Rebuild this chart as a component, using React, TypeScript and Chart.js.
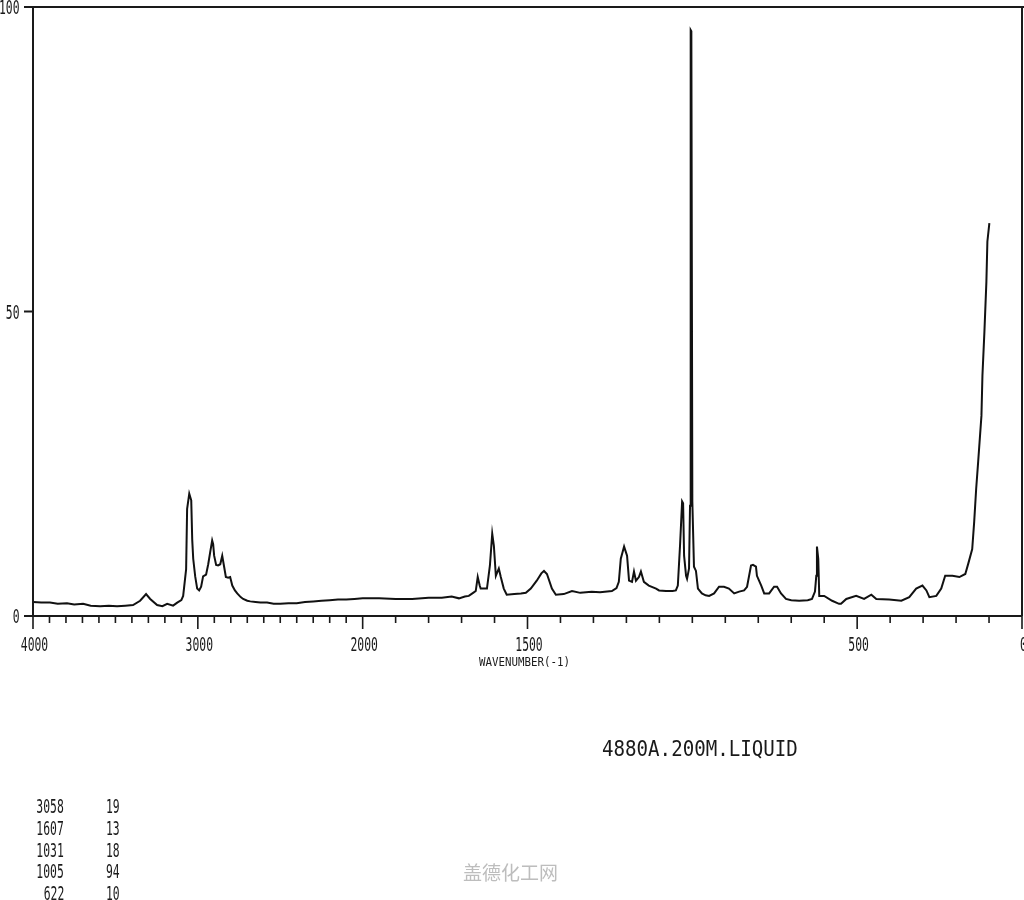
import React, { useEffect, useRef } from "react";
import { Chart, registerables } from "chart.js";

Chart.register(...registerables);

// Raman spectrum (wavenumber, intensity)
const wavenumbers = [
  4000, 3950, 3897, 3850, 3794, 3750, 3696, 3650, 3593, 3540, 3490, 3440, 3393, 3350, 3314, 3289,
  3247, 3215, 3186, 3150, 3125, 3100, 3089, 3071, 3065, 3052, 3040, 3034, 3028, 3016, 3004, 2992,
  2980, 2968, 2950, 2937, 2925, 2913, 2907, 2901, 2889, 2877, 2864, 2852, 2840, 2830, 2816, 2804,
  2791, 2775, 2761, 2740, 2725, 2700, 2682, 2650, 2620, 2580, 2540, 2500, 2450, 2400, 2350, 2300,
  2250, 2200, 2150, 2100, 2050, 2000, 1950, 1900, 1850, 1800, 1760, 1730, 1708, 1690, 1678, 1665,
  1657, 1651, 1645, 1642, 1630, 1623, 1614, 1607, 1602, 1596, 1587, 1581, 1572, 1563, 1540, 1520,
  1505, 1490, 1472, 1458, 1450, 1441, 1426, 1414, 1390, 1365, 1340, 1305, 1280, 1244, 1230, 1223,
  1217, 1207, 1198, 1192, 1183, 1177, 1171, 1162, 1156, 1147, 1132, 1110, 1101, 1080, 1060, 1050,
  1044, 1037, 1031, 1028, 1025, 1019, 1016, 1010, 1007, 1005, 1003, 1000, 995, 989, 983, 971,
  960, 949, 934, 919, 904, 889, 873, 858, 843, 834, 822, 816, 807, 804, 791, 782,
  767, 752, 743, 731, 716, 700, 676, 650, 637, 628, 624, 622, 618, 615, 600, 576,
  555, 549, 533, 503, 479, 457, 442, 403, 366, 342, 321, 302, 290, 281, 260, 245,
  233, 211, 190, 172, 163, 151, 145, 139, 133, 123, 120, 114, 108, 105, 99,
];
const intensities = [
  2.3, 2.2, 2.2, 2.0, 2.1, 1.9, 2.0, 1.7, 1.6, 1.7, 1.6, 1.7, 1.8, 2.5, 3.6, 2.8,
  1.8, 1.6, 2.0, 1.7, 2.2, 2.6, 3.3, 7.7, 17.6, 20.1, 19.0, 12.5, 9.4, 6.5, 4.5, 4.2,
  4.8, 6.5, 6.8, 8.5, 10.5, 12.4, 11.8, 9.9, 8.4, 8.3, 8.5, 9.9, 8.0, 6.4, 6.3, 6.4,
  5.0, 4.2, 3.7, 3.1, 2.8, 2.5, 2.4, 2.3, 2.2, 2.2, 2.0, 2.0, 2.1, 2.1, 2.3, 2.4,
  2.5, 2.6, 2.7, 2.7, 2.8, 2.9, 2.9, 2.8, 2.8, 3.0, 3.0, 3.2, 2.9, 3.2, 3.3, 3.8,
  4.1, 6.4, 5.0, 4.5, 4.5, 4.5, 8.3, 13.5, 11.5, 6.6, 7.8, 6.4, 4.5, 3.5, 3.6, 3.7,
  3.8, 4.5, 5.8, 7.0, 7.4, 6.9, 4.5, 3.5, 3.6, 4.1, 3.8, 4.0, 3.9, 4.1, 4.6, 5.6,
  9.4, 11.4, 9.9, 5.8, 5.6, 7.3, 5.8, 6.4, 7.3, 5.6, 5.0, 4.5, 4.2, 4.1, 4.1, 4.2,
  5.0, 11.9, 18.8, 18.5, 9.9, 6.6, 6.1, 7.8, 18.1, 96.2, 96.0, 18.8, 8.1, 7.4, 4.5, 3.7,
  3.4, 3.3, 3.7, 4.8, 4.8, 4.5, 3.7, 4.0, 4.2, 4.8, 8.3, 8.4, 8.1, 6.6, 5.0, 3.7,
  3.7, 4.8, 4.8, 3.7, 2.8, 2.6, 2.5, 2.6, 2.8, 4.0, 6.6, 11.4, 9.4, 3.3, 3.3, 2.5,
  2.0, 2.0, 2.8, 3.3, 2.8, 3.5, 2.8, 2.7, 2.5, 3.1, 4.5, 5.0, 4.2, 3.1, 3.3, 4.5,
  6.6, 6.6, 6.4, 6.9, 8.6, 11.0, 15.5, 20.9, 25.3, 32.9, 39.5, 46.7, 54.9, 61.5, 64.5,
];

// Axis ticks
const xMinorStep = 100;
const xLabelledTicks = [4000, 3000, 2000, 1500, 500, 0];
const yTicks = [0, 50, 100];
const axisTitle = "WAVENUMBER(-1)";

// Annotations
const sampleLabel = "4880A.200M.LIQUID";
const peakPositions = ["3058", "1607", "1031", "1005", "622"];
const peakHeights = ["19", "13", "18", "94", "10"];
const watermark = "盖德化工网";

// 4000-2000 is drawn at half the scale of 2000-0
const toAxis = (w: number) => (w >= 2000 ? (4000 - w) / 2 : 1000 + (2000 - w));

const INK = "#1a1a1a";
const MONO = '"DejaVu Sans Mono", "Liberation Mono", monospace';

function drawText(ctx: CanvasRenderingContext2D, t: string, x: number, y: number, align: CanvasTextAlign, sx: number) {
  ctx.save();
  ctx.translate(x, y);
  ctx.scale(sx, 1);
  ctx.textAlign = align;
  ctx.textBaseline = "alphabetic";
  ctx.fillText(t, 0, 0);
  ctx.restore();
}

const plotterAxes = {
  id: "plotterAxes",
  afterDatasetsDraw(chart: any) {
    const { ctx, chartArea: a, scales } = chart;
    const xs = scales.x;
    const ys = scales.y;
    ctx.save();
    ctx.strokeStyle = INK;
    ctx.lineWidth = 2;
    ctx.beginPath();
    // frame
    ctx.moveTo(a.left, a.top);
    ctx.lineTo(1024, a.top);
    ctx.moveTo(a.right, a.top);
    ctx.lineTo(a.right, a.bottom);
    ctx.moveTo(a.left, a.top);
    ctx.lineTo(a.left, a.bottom);
    ctx.moveTo(a.left - 9, a.bottom);
    ctx.lineTo(a.right, a.bottom);
    // y ticks
    for (const v of yTicks) {
      const py = ys.getPixelForValue(v);
      ctx.moveTo(a.left - 9, py);
      ctx.lineTo(a.left, py);
    }
    ctx.stroke();
    // x ticks
    ctx.lineWidth = 1.6;
    ctx.beginPath();
    for (let w = 4000; w >= 0; w -= xMinorStep) {
      const px = xs.getPixelForValue(toAxis(w));
      const len = xLabelledTicks.includes(w) ? 13 : 7;
      ctx.moveTo(px, a.bottom);
      ctx.lineTo(px, a.bottom + len);
    }
    ctx.stroke();

    ctx.fillStyle = INK;
    ctx.font = `19px ${MONO}`;
    for (const w of xLabelledTicks) {
      const px = xs.getPixelForValue(toAxis(w));
      drawText(ctx, String(w), px + 1.5, a.bottom + 35, "center", 0.6);
    }
    for (const v of yTicks) {
      const py = ys.getPixelForValue(v);
      drawText(ctx, String(v), a.left - 13.5, py + 7, "right", 0.6);
    }
    ctx.font = `12px ${MONO}`;
    drawText(ctx, axisTitle, (a.left + a.right) / 2 - 3, a.bottom + 50, "center", 0.9);
    ctx.restore();
  },
};

export default function App() {
  const ref = useRef<HTMLCanvasElement>(null);

  useEffect(() => {
    if (!ref.current) return;
    const data = wavenumbers.map((w, i) => ({ x: toAxis(w), y: intensities[i] }));
    const chart = new Chart(ref.current, {
      type: "line",
      data: {
        datasets: [
          {
            label: "Raman",
            data,
            borderColor: "#111",
            borderWidth: 2,
            pointRadius: 0,
            tension: 0,
            fill: false,
          },
        ],
      },
      options: {
        animation: false,
        responsive: false,
        devicePixelRatio: 1,
        layout: { padding: { left: 33, right: 2, top: 7, bottom: 284 } },
        plugins: { legend: { display: false }, tooltip: { enabled: false } },
        scales: {
          x: { type: "linear", min: 0, max: 3000, display: false },
          y: { type: "linear", min: 0, max: 100, display: false },
        },
      },
      plugins: [plotterAxes],
    });
    return () => chart.destroy();
  }, []);

  const mono: React.CSSProperties = {
    position: "absolute",
    fontFamily: MONO,
    color: INK,
    lineHeight: 1,
    whiteSpace: "nowrap",
  };

  return (
    <div style={{ position: "absolute", left: 0, top: 0, width: 1024, height: 900, background: "#fff", overflow: "hidden" }}>
      <canvas ref={ref} width={1024} height={900} style={{ position: "absolute", left: 0, top: 0, width: 1024, height: 900 }} />
      <div style={{ ...mono, left: 602, top: 738, fontSize: 22, transform: "scaleX(0.87)", transformOrigin: "left top" }}>
        {sampleLabel}
      </div>
      {peakPositions.map((p, i) => (
        <div
          key={"p" + i}
          style={{ ...mono, right: 1024 - 64, top: 797 + i * 21.8, fontSize: 19, transform: "scaleX(0.6)", transformOrigin: "right top", textAlign: "right" }}
        >
          {p}
        </div>
      ))}
      {peakHeights.map((h, i) => (
        <div key={"h" + i} style={{ ...mono, left: 106, top: 797 + i * 21.8, fontSize: 19, transform: "scaleX(0.6)", transformOrigin: "left top" }}>
          {h}
        </div>
      ))}
      <div
        style={{
          position: "absolute",
          left: 463,
          top: 862,
          fontSize: 19,
          lineHeight: 1,
          color: "#bdbdbd",
          fontFamily: '"Noto Sans CJK SC", sans-serif',
          whiteSpace: "nowrap",
        }}
      >
        {watermark}
      </div>
    </div>
  );
}
